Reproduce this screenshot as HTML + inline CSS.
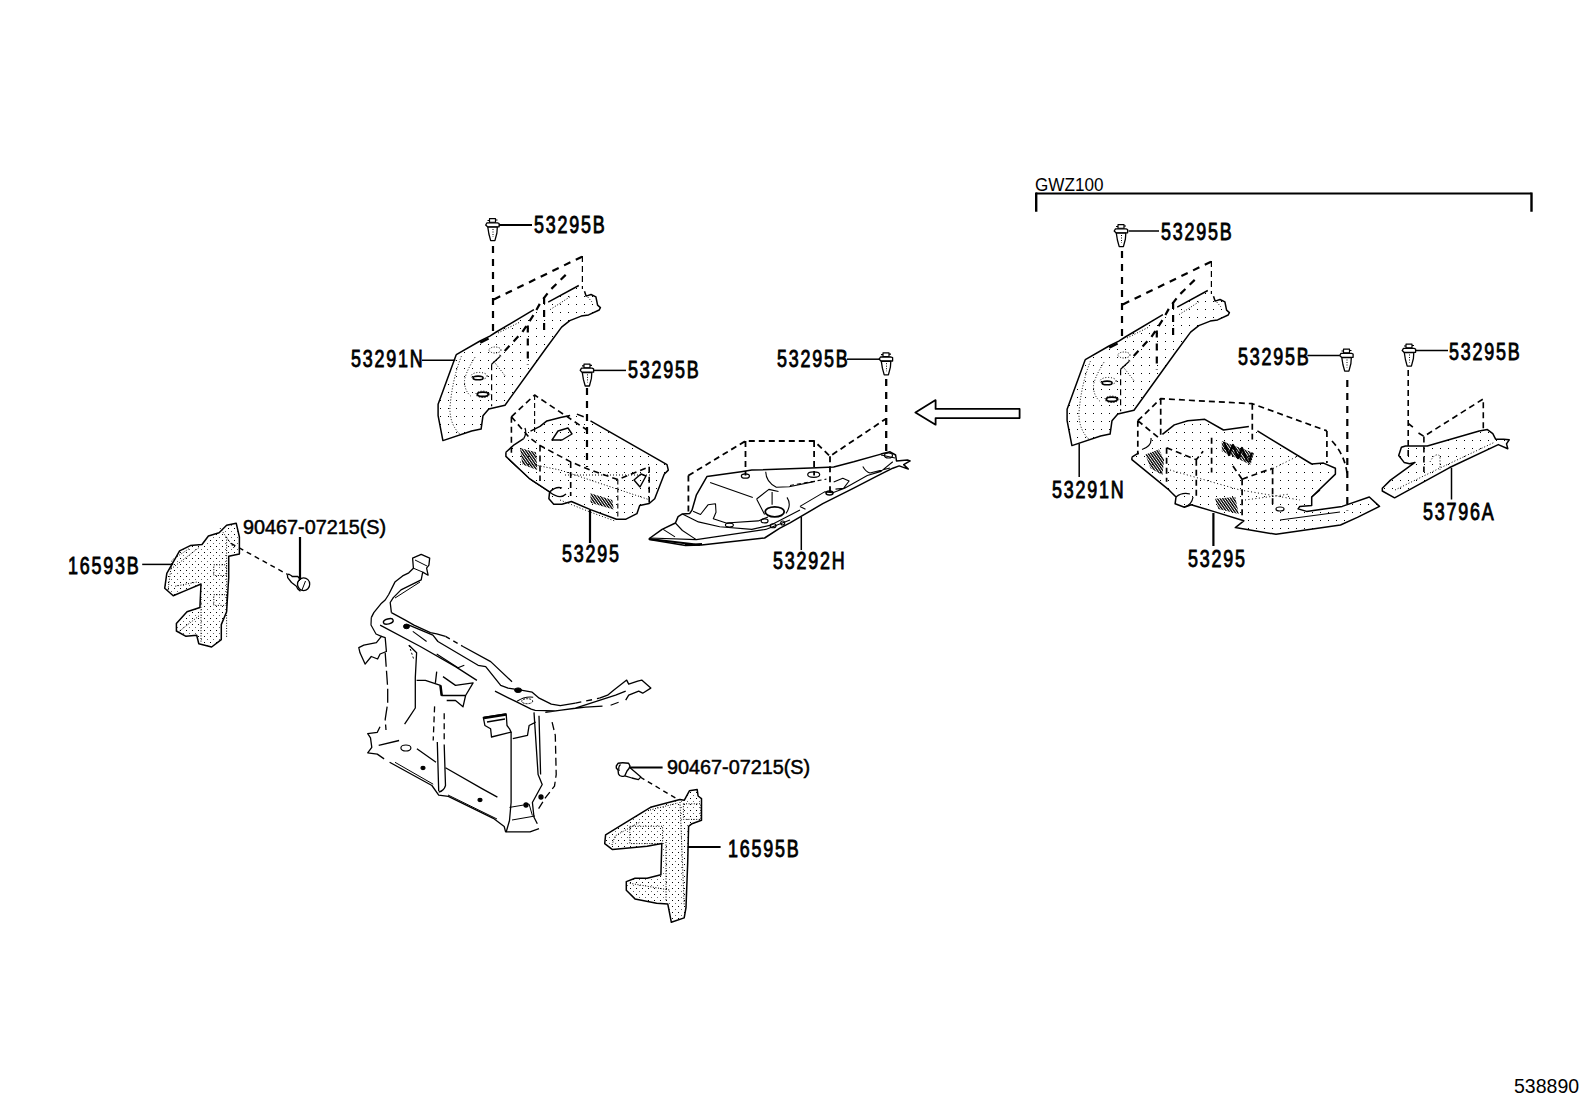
<!DOCTYPE html>
<html><head><meta charset="utf-8">
<style>
html,body{margin:0;padding:0;background:#fff;}
body{width:1592px;height:1099px;position:relative;overflow:hidden;}
.lb{position:absolute;font-family:"Liberation Sans",sans-serif;font-weight:normal;-webkit-text-stroke:0.9px #000;font-size:24px;line-height:26px;letter-spacing:2.4px;transform:scaleX(0.745);transform-origin:0 0;color:#000;white-space:nowrap;}
.ls{position:absolute;font-family:"Liberation Sans",sans-serif;font-weight:normal;-webkit-text-stroke:0.5px #000;font-size:20px;line-height:20px;transform:scaleX(0.99);transform-origin:0 0;color:#000;white-space:nowrap;}
.lt{position:absolute;font-family:"Liberation Sans",sans-serif;font-size:19.5px;line-height:20px;color:#000;white-space:nowrap;}
svg{position:absolute;left:0;top:0;}
</style></head><body>
<svg width="1592" height="1099" viewBox="0 0 1592 1099">
<defs>
<pattern id="st" width="6" height="6" patternUnits="userSpaceOnUse"><rect x="0" y="0" width="1" height="1" fill="#000"/><rect x="3" y="3" width="1" height="1" fill="#000" fill-opacity="0.6"/></pattern>
<pattern id="st2" width="8" height="8" patternUnits="userSpaceOnUse"><rect x="0" y="0" width="1" height="1" fill="#000"/></pattern>
<pattern id="hat" width="2.2" height="2.2" patternUnits="userSpaceOnUse" patternTransform="rotate(-35)"><rect x="0" y="0" width="1.3" height="2.2" fill="#000"/></pattern>
<g id="clip">
<path d="M-3,-6.3 H3 V-2.6 H-3 Z M-5,-4.5 H-3 M3,-5 H5" fill="#fff" stroke="#000" stroke-width="1.2"/>
<path d="M-5.5,-2.2 H5 L6.6,-1.5 V1.8 H-5 L-6.8,0 Z" fill="#fff" stroke="#000" stroke-width="1.3" stroke-linejoin="round"/>
<path d="M-4.7,2.2 L4.8,2.2 L4.4,8 L2.4,15.6 L-1.8,15.6 L-3.6,9 Z" fill="#fff" stroke="#000" stroke-width="1.3" stroke-linejoin="round"/>
<path d="M0.5,4 V12" stroke="#000" stroke-width="1" stroke-dasharray="1 1.5"/>
</g>
</defs>
<g fill="none" stroke="#000" stroke-linejoin="round" stroke-linecap="butt">
<!-- ===== LEFT 53291N group ===== -->
<g id="g53291">
<path d="M456.3,354.6 L480,341 L489.8,336.1 L496.3,332 L533.9,309.6 L548.2,302.2 L578.8,285.5 L584.5,291.2 L586.1,296.1 L591,294.5 L595.9,296.9 L597.6,305.1 L600.4,307.6 L599.2,310 L588.6,314.9 L581.2,316.1 L569.8,320.6 L561.6,327.1 L545.3,349.2 L505,405.2 L488.8,409 L483,415.7 L481.1,429.1 L471.6,431 L442.9,440.6 L438.1,415.7 L438.1,404.3 Z" fill="url(#st2)" stroke="none"/>
<path d="M456.3,354.6 L480,341 L489.8,336.1 L496.3,332 L533.9,309.6 M548.2,302.2 L578.8,285.5 M584.5,291.2 L586.1,296.1 L591,294.5 L595.9,296.9 L597.6,305.1 L600.4,307.6 L599.2,310 L588.6,314.9 L581.2,316.1 L569.8,320.6 L561.6,327.1 L545.3,349.2 L505,405.2 L488.8,409 L483,415.7 L481.1,429.1 L471.6,431 L442.9,440.6 L438.1,415.7 L438.1,404.3 L456.3,354.6" stroke-width="1.5"/>
<!-- inner dotted -->
<path d="M461.4,356.2 Q452,380 449.9,408.5 Q450,425 460.3,434.6 M475,357.2 Q464,375 464.5,382.3 Q465,392 471.8,396.9 M493.8,361.4 L505.3,376 M550.2,309.6 L569.8,296.9 M586,295 L592,302 M498,333 L520,322" stroke-width="1" stroke-dasharray="1 1.8"/>
<ellipse cx="479.2" cy="376" rx="8" ry="3.6" stroke-width="1" stroke-dasharray="1 1.8"/>
<ellipse cx="482.8" cy="394.3" rx="7" ry="3.2" stroke-width="1" stroke-dasharray="1 1.8"/>
<ellipse cx="495" cy="350" rx="6" ry="3" stroke-width="1" stroke-dasharray="1 1.5"/>
<ellipse cx="478.1" cy="377.9" rx="5" ry="1.8" stroke-width="1.6"/>
<ellipse cx="482.8" cy="394.3" rx="5.5" ry="2.2" stroke-width="1.8"/>
<path d="M480.2,342.6 L488.6,338.5" stroke-width="2.5"/>
<!-- dashed thick -->
<path d="M493,246 V335 M493.9,299.4 L582.4,256.5 M565.7,274.9 L550.2,290 L540.4,302.7 L533.9,314.5 L522.4,332 L508.6,346.7 L500,356 M544.1,297 V334 M527.8,325.5 V365" stroke-width="2.2" stroke-dasharray="7 6"/>
<path d="M582.4,256 V289 M491.6,364.2 V406.2" stroke-width="1.2" stroke-dasharray="6 4"/>
<path d="M500,356.5 L491.6,364.2" stroke-width="1.2"/>
</g>
<use href="#clip" x="492.5" y="225"/>
<path d="M499,225 H532" stroke-width="2"/>
<path d="M422,360.3 H455.3" stroke-width="1.5"/>
<!-- ===== LEFT 53295 ===== -->
<path d="M505.9,452.3 L514.1,444.8 L523.7,438.7 L525,433.2 L530.5,431.2 L540,426.4 L546.9,420.9 L560.5,417.5 L570.1,415.5 L576.9,414.1 L583.7,416.8 L590.5,420.9 L667,464.6 L668.3,470.1 L664.2,474.2 L654.7,498.7 L649.2,503.5 L639.7,505.5 L636.9,513.7 L626,519.2 L616.5,519.2 L590.5,509.6 L571.4,501.5 L561.9,504.2 L553.7,504.2 L548.9,498.7 L549.6,491.9 L529.1,478.3 L505.9,456.4 Z" fill="url(#st2)" stroke="none"/>
<path d="M505.9,452.3 L514.1,444.8 L523.7,438.7 M530.5,431.2 L540,426.4 L546.9,420.9 L560.5,417.5 L570.1,415.5 M576.9,414.1 L583.7,416.8 M590.5,420.9 L667,464.6 L668.3,470.1 L664.2,474.2 L654.7,498.7 L649.2,503.5 L639.7,505.5 L636.9,513.7 L626,519.2 L616.5,519.2 L590.5,509.6 L571.4,501.5 L561.9,504.2 L553.7,504.2 L548.9,498.7 L549.6,491.9 L529.1,478.3 L505.9,456.4 L505.9,452.3" stroke-width="1.5"/>
<path d="M523.7,438.7 Q527,433 525,428 M549.6,491.9 Q556,486 562,488 M549.6,492 Q560,500 566,494" stroke-width="1.3"/>
<path d="M552,440 L558,431 L568,428 L572,434 L562,440 Z" stroke-width="1.4"/>
<path d="M634,480 L641,474 L646,476 L640,487 Z" stroke-width="1.4"/>
<path d="M508,459 L531,480 L551,493" stroke-width="1"/>
<path d="M520,462 L560,470 L620,490 L650,500 M565,475 L650,475 M560,500 L590,512 L615,521" stroke-width="1" stroke-dasharray="1 2"/>
<path d="M520,448 L536,452.3 L537.3,470.1 L522.3,464.6 Z" fill="url(#hat)" stroke="none"/>
<path d="M590.5,493.3 L612.4,500.1 L613.7,509.6 L590.5,502.8 Z" fill="url(#hat)" stroke="none"/>
<!-- dashed box -->
<path d="M511.4,416.8 L534.6,395 L587.8,430.5 M511.4,416.8 L529.1,437.3 L540,445.5 L570.7,461.9 L590.5,470.1 L617.8,479.6 L649.2,466.7 M511.4,416.8 V456.4 M540,445.5 V481 M570.7,461.9 V496 M649.2,466.7 V502.8" stroke-width="1.6" stroke-dasharray="6 4"/>
<path d="M534.6,395 V432 M617.8,479.6 V516.5" stroke-width="1.1" stroke-dasharray="5 3"/>
<path d="M587,388 V467" stroke-width="2.2" stroke-dasharray="7 6"/>
<use href="#clip" x="587" y="370.4"/>
<path d="M594,370.4 H626" stroke-width="1.5"/>
<path d="M590,510 V543" stroke-width="2.2"/>
<!-- ===== 53292H ===== -->
<path d="M649.3,538.5 L662.1,529.4 L675.4,523 L678.1,516.6 L682.4,513.9 L689.8,513.4 L692,510.2 L696.3,495.2 L706.9,476.6 L741.1,471.7 L751.8,470.1 L810.5,468 L833.7,466.9 L853.7,461.8 L881,454.1 L890.1,451.8 L895.6,455 L896.5,460.9 L907.4,460 L910.1,460.9 L903.7,464.6 L908.3,469.1 L899.2,465.9 L892.8,468.2 L876.4,476.4 L853.7,488.2 L822.8,503.7 L790,522.8 L779.5,528.3 L764.6,538 L701.6,544.9 L685.6,545.4 L649.3,539.6 Z" stroke-width="1.5"/>
<path d="M663.2,529.4 L675,536.9 M675.4,523 L682.4,530.5 L696.3,539.6 M649.8,538 L696.3,539.6 L765.7,529.4 L790,520 M682.4,513.9 L698.4,521.9 L719.7,526.7 L751.8,529.4 L771,525.1 L800,510 M693,511.3 L700.5,514.5 L708,504.8 L715.5,503.8 L716,512.3 L713.3,518.7 L726.2,523 L758.2,520.9 L768,517 M710.1,482.4 L752.8,497.4 M756.6,499 L768.9,489.4 L778.5,491.5 M756.6,499 L764.6,514.5 M772.1,492 V504.8 M787,497.4 Q792,505 786,513.4 M765.7,471.7 Q766,482 776.3,487.2 L789.2,486.7 L815,481.4 M800,506.4 L805.5,509.2 M800,506.4 L824.6,491.9 L832.8,492.8 L844.6,488.2 L867.3,475.5 L881,471.4 L892.8,461.8 M862.8,466.4 Q866,472 870,473 L890,468 M833.7,481.9 L842.8,478.2 L849.1,481 L843.7,488.2 L835.5,489.1 M881,455 L895,458" stroke-width="1.1"/>
<path d="M790,485.5 L826.4,479.1" stroke-width="1.1" stroke-dasharray="4 3"/>
<path d="M649.5,539 L700,545 M685,545 L702,544" stroke-width="2"/>
<ellipse cx="774.7" cy="511.8" rx="9.5" ry="5" stroke-width="1.8"/>
<ellipse cx="745.4" cy="476" rx="4" ry="2.2" stroke-width="1.3"/>
<ellipse cx="813.7" cy="474.6" rx="6" ry="2.8" stroke-width="1.2"/>
<ellipse cx="829.5" cy="493" rx="3.5" ry="2" stroke-width="1.5"/>
<ellipse cx="888.5" cy="455.5" rx="4" ry="2.5" stroke-width="1.2"/>
<ellipse cx="729.4" cy="525.1" rx="4" ry="2" stroke-width="1.1"/>
<ellipse cx="764.6" cy="520.9" rx="3.5" ry="2" stroke-width="1.1"/>
<ellipse cx="773.1" cy="525.7" rx="3" ry="2" stroke-width="1.1"/>
<ellipse cx="782.7" cy="523" rx="2" ry="2" stroke-width="1.1"/>
<!-- dashed -->
<path d="M688.4,475.5 L745.5,441 H814.1 L830,456.2 L885.3,419.2 M688.4,475.5 V512.5 M745.5,441 V475.5 M814.1,441 V475.5 M830,456.2 V493" stroke-width="1.8" stroke-dasharray="6 4"/>
<path d="M886.2,379 V452.7" stroke-width="2.3" stroke-dasharray="7 6"/>
<use href="#clip" x="886" y="359.2"/>
<path d="M847,359.2 H879" stroke-width="1.5"/>
<path d="M801.3,517 V550" stroke-width="1.5"/>
<!-- ===== 16593B ===== -->
<path d="M226.6,525.3 L236.2,523.2 L239.4,537 L239.4,554 L228.7,556.3 L228.7,577.6 L226.6,611.8 L221.3,624.6 L221.3,639.6 L211.6,647 L198.8,643.8 L196.7,635.3 L186,636.3 L176.4,631 L176.4,623.5 L187,611.8 L199.9,607.5 L201,584 L186,590.4 L173.2,595.8 L164.7,588.3 L166.8,573.3 L179.6,550.9 L190.3,545.6 L202,544.5 L208.4,536 L219.1,532.8 Z" fill="url(#st)" stroke="#000" stroke-width="1.5"/>
<path d="M226.6,537 V637.4 M213.8,564.8 H226.6 V575.5 H213.8 Z M213.8,594.7 H226.6 V605.4 H213.8 Z M201,599 V641.7 M171,569 L198.8,547.7 M175.3,586.2 L197,582 M179.6,631 L198.8,616 M168,590 L172,560 L190,548 M220,528 L234,548" stroke-width="1" stroke-dasharray="1 1.6"/>
<path d="M142.2,564.4 H173.2" stroke-width="1.5"/>
<path d="M231,543.4 L287.5,574.4" stroke-width="1.4" stroke-dasharray="5 4"/>
<path d="M287.4,574.8 L289,574.2 L291.5,575.7 L292,576.5 L297.8,576.5 L299.5,578.5 M287.4,574.8 L287.7,577.6 L291.5,582.5 L296.4,586.3 L297.8,589 L300.5,591.2" stroke-width="1.3"/>
<ellipse cx="303.6" cy="584.2" rx="6.1" ry="6.4" stroke-width="1.3"/>
<path d="M297.5,582.5 L300,580 M305.5,581 L302,590" stroke-width="1"/>
<path d="M300,537 V580" stroke-width="2.2"/>
<!-- ===== 16595B ===== -->
<path d="M689.4,790.8 L697.2,789.6 L698.1,796 L701.5,798.6 L701.5,820.2 L692,823.7 L688.6,826.3 L687.7,862.6 L686,907.5 L684.2,917.9 L671.3,922.2 L667.8,904.1 L656.6,903.2 L635,898.9 L626.3,890.3 L626.3,881.6 L635,878.2 L647.1,878.2 L660.9,874.7 L661.8,843.6 L647.1,846.2 L612.5,849.6 L604.7,843.6 L605.6,834.9 L619.4,826.3 L650.5,807.3 L679.9,799.5 L684.2,800.3 Z" fill="url(#st)" stroke="#000" stroke-width="1.5"/>
<path d="M629.8,826.3 H662.6 V843.6 H629.8 Z M666,842 V900.6 M629.8,883.3 L669.5,890 M680,802 L684.2,905.8 M683.4,803.8 H700.7 V819.4 H683.4 Z M612,845 L615,836 L640,822 M650,810 L678,803" stroke-width="1" stroke-dasharray="1 1.6"/>
<path d="M687.7,847 H720.6" stroke-width="1.8"/>
<path d="M640.1,777 L676.5,798.6" stroke-width="1.4" stroke-dasharray="5 4"/>
<path d="M628.6,766.5 L640.9,776.9 L638.4,779.6 L631.9,778 L624.8,775.8" fill="#fff" stroke-width="1.3"/>
<path d="M618.2,763.2 Q622,762.2 628.6,763.2 L630,766 L629,768.5 L627,771 L624.8,775.8 Q620,777.5 618.5,774 L618,770 L616.3,768 L616.3,766 Z" fill="#fff" stroke-width="1.4"/>
<path d="M620.5,764.5 Q617.8,767 619.2,771" stroke-width="1.2"/>
<path d="M629.8,767.5 H662.6" stroke-width="2"/>
<!-- arrow -->
<path d="M915.4,412.4 L935.6,400.1 V408.9 H1019.6 V418.1 H935.6 V424.7 Z" stroke-width="1.8"/>
<!-- GWZ100 bracket -->
<path d="M1036,193.6 H1531.5" stroke-width="2"/>
<path d="M1036.2,192.6 V211.8 M1531.5,192.6 V211.8" stroke-width="2.4"/>
<!-- ===== Radiator support ===== -->
<g stroke-width="1.3">
<!-- left arm -->
<path d="M371.3,617.6 L373.8,612.6 L380.9,603.8 L385.2,600 L388.7,594.5 L394.9,582.1 L402.6,575.9 L408.8,572.8 L413.4,568.2 L412.6,558.1 L421.2,554.3 L429.7,558.1 L428.9,565.1 L426.6,568.2 L428.1,575.2 L422.7,572.1 L421.2,579.8 L401,589.9 L393.3,597.6 L390.2,602.5 L391.4,612.6"/>
<path d="M413.4,568.2 L422.7,572.1 M415,560 L427,566 M395,598 L420,582" stroke-width="1"/>
<path d="M371.3,617.6 L371,625 L376,634 L381.4,636.4" stroke-width="1.2"/>
<!-- top beam -->
<path d="M391.4,612.6 L405.3,620.1 L414,625.1 L430.4,632.7 L436.7,633.9 L445.5,636.4 M463,646.5 L490.7,661.6 L512,681.7"/>
<path d="M445.5,636.4 L463,646.5" stroke-dasharray="5 4"/>
<path d="M409,625.1 L432.9,635.2 L437.9,641.5 L478.1,665.3 L485.7,666.6 L500.7,685.4 L508.1,688.1 L521.1,690.2 L532.2,692.2 L539.2,698.2 L551.3,704.2 L560.3,705.7 L575.4,703.2 M599.5,698.2 L607.6,695.2 L613.6,690.2 L626.7,680.1 L628.7,684.1 L637.7,681.1 L641.7,680.1 L650.8,688.1 L642.7,693.2 L638.7,691.2 L628.7,695.2 L625.7,700.2"/>
<path d="M575.4,703.2 L599.5,698.2" stroke-dasharray="6 5"/>
<path d="M380.1,625.1 L420.3,646.5 L455.5,666.6 L476.9,680.4 M495,691.2 L515.1,701.2 L531.2,709.2 L535.2,710.3 L555.3,710.8 L585.5,707.2 L602.5,706.2 M545.3,712.3 L575.4,708.2 L615.6,695.2 L625.7,691.2"/>
<path d="M412.8,631.4 L426.6,641.5 M436.7,654 L458,667.8 L464.3,665.3 M517.1,701.2 Q525,696 533.2,697.2 M610.6,705.2 L618.6,702.2" stroke-width="1.1"/>
<ellipse cx="388.3" cy="621.4" rx="5" ry="2.5" stroke-width="1.4" transform="rotate(-15 388.3 621.4)"/>
<ellipse cx="406.5" cy="626.4" rx="3" ry="2.3" fill="#000" stroke-width="1"/>
<ellipse cx="518.1" cy="690.2" rx="3.5" ry="2.3" fill="#000" stroke-width="1"/>
<ellipse cx="527.2" cy="701.2" rx="5.5" ry="2.5" stroke-width="1" stroke-dasharray="2 1"/>
<!-- left pillar & bracket -->
<path d="M358.8,647.7 L363.8,645.2 L376.4,642.7 L381.4,636.4 L385.2,637.7 L386.4,651.5 L380.1,654 L377.6,659 L371.3,656.5 L365.1,664.1 L360,652.8 Z"/>
<path d="M385.2,652.8 L387.7,687.9 L387.7,703 L385.2,719.3 L386,730" stroke-dasharray="14 4"/>
<path d="M380,726.8 L377.3,732.3 L367.7,733.7 L370.5,737.8 L371.8,747.3 L367.7,752.8 L377.3,754.1 L384.1,758.9" />
<!-- inner left pillar -->
<path d="M409,645.2 L416.6,652.8 L415.3,677.9 L415.3,708 L407.8,719.3 L404.6,724.1"/>
<path d="M409,645.2 L414,660" stroke-width="1" stroke-dasharray="2 2"/>
<path d="M416.6,680.4 L425.4,680.4 L440.4,685.4 L441.7,695.5 L465.6,695.5 L463,706.8 L455.5,700.5 L446.7,700.5 M443,676.6 L455.5,685.4 L473.1,682.9 L465.6,695.5 M436.7,671.6 L435.4,682.9"/>
<path d="M440.4,685.4 L441.7,695.5" stroke-width="2.5"/>
<path d="M434.6,706.4 L433.2,740.5 M444.2,713.2 L444.2,740" stroke-dasharray="6 4"/>
<!-- center post -->
<path d="M437.3,741.9 L438.7,791 M444.2,744.6 L445.5,785.5 Q444,791 438.7,792"/>
<!-- bottom beam -->
<path d="M389.6,762.3 L431.9,785.5 L438.7,795.1 L448.3,796.4 L493.3,818.3 L504.2,826.5 L505.6,831.9 L530,831.9 L539,828.7"/>
<path d="M395,762.3 L433.2,784.2 M448,795 L497,819" stroke-width="1"/>
<path d="M378.7,745.3 L399.1,740.5 M416.9,748.7 L436,762.3 M445.5,767.8 L482.4,788.9 L497.4,797.1" />
<ellipse cx="405.9" cy="748" rx="5" ry="3" stroke-width="1.2"/>
<ellipse cx="423" cy="768" rx="2" ry="1.5" fill="#000"/>
<ellipse cx="480" cy="800" rx="2" ry="1.5" fill="#000"/>
<!-- right pillar -->
<path d="M483.3,717.3 L506.2,714 L507,725.5 L509.5,728.8 L511.1,732.1 L491.5,737 L490.6,728.8 L484.9,725.5 Z M487,722 L505,719" />
<path d="M484,718 L506,714.5" stroke-width="2.5"/>
<path d="M511.1,732.1 L511.1,802.5 L509.5,820.5 L506.2,832 M512.8,738.6 L527.5,735.3 L529.1,725.5 L535.7,722.2 M534,712.4 L538.1,774.6 L542.2,784.5 L532.4,802.5 L534,817.2 L537.3,823.8 M539,715.7 L540.6,774.6"/>
<path d="M552.1,722.2 L555.3,735.3 L556.2,774.6 L554.5,786.1 L545.5,797.6 L537.3,810.7" stroke-dasharray="8 4"/>
<path d="M509.5,807.4 L529.1,804.1 L532.4,815.6 M512,820 L535,816" stroke-width="1"/>
<ellipse cx="526" cy="805" rx="2" ry="2" fill="#000"/>
<ellipse cx="541" cy="797" rx="2" ry="2" fill="#000"/>
</g>
<!-- ===== RIGHT group ===== -->
<use href="#g53291" x="629" y="5"/>
<use href="#clip" x="1121" y="231"/>
<path d="M1128.5,231 H1159" stroke-width="1.5"/>
<path d="M1079.2,443.7 V476.9" stroke-width="1.5"/>
<!-- right 53295 -->
<path d="M1131.9,457.2 L1138.7,452.9 L1142,449.5 L1150.5,439.4 L1162.4,434.3 L1174.3,424.9 L1187.8,420.7 L1204.8,419.3 L1223.5,430 L1248.9,426.6 L1257.4,430.9 L1311.7,464 L1323.5,463.1 L1335.4,468.2 L1335.4,474.1 L1311.7,497 L1311.7,505.5 L1299.8,506.4 L1298.1,508.9 L1306.6,511.4 L1342.2,506.4 L1369.3,497 L1379.5,506.4 L1357.4,517.4 L1340.5,525 L1276,534.3 L1235.3,527.6 L1243.8,520.8 L1213.3,511.4 L1191.2,504.7 L1184.4,507.2 L1175.1,503.8 L1176,497 L1169.2,490.2 L1131.9,459.7 Z" fill="url(#st2)" stroke="none"/>
<path d="M1131.9,457.2 L1138.7,452.9 M1162.4,434.3 L1174.3,424.9 L1187.8,420.7 L1204.8,419.3 L1223.5,430 L1248.9,426.6 M1257.4,430.9 L1311.7,464 L1323.5,463.1 L1335.4,468.2 L1335.4,474.1 L1311.7,497 L1311.7,505.5 L1299.8,506.4 L1298.1,508.9 L1306.6,511.4 L1342.2,506.4 L1369.3,497 L1379.5,506.4 L1357.4,517.4 L1340.5,525 L1276,534.3 L1235.3,527.6 L1243.8,520.8 L1213.3,511.4 L1191.2,504.7 L1184.4,507.2 L1175.1,503.8 L1176,497 L1169.2,490.2 L1131.9,459.7 L1131.9,457.2" stroke-width="1.5"/>
<path d="M1142,449.5 Q1152,446 1151,438 M1176,497 Q1182,492 1190,494 M1184,507 Q1192,505 1193,497 M1311.7,497 L1320,490 M1280,520 L1340,512" stroke-width="1.2"/>
<path d="M1221.8,441 L1254,452.9 L1250.6,464.8 L1221.8,451.2 Z" fill="url(#hat)" stroke="none"/>
<path d="M1224,442 L1229,455 L1233,445 L1238,458 L1242,448 L1247,461 M1249,462 L1252,453" stroke-width="2.2"/>
<path d="M1170,470 L1240,490 L1300,500 M1270,470 L1300,455 M1245,500 L1290,494" stroke-width="1" stroke-dasharray="1 2.5"/>
<path d="M1145.4,454.6 L1159,449.5 L1164.1,459.7 L1162.4,475 L1150.5,468.2 Z" fill="url(#hat)" stroke="none"/>
<path d="M1215,498.7 L1235.3,497 L1238.7,514 L1218.4,508.9 Z" fill="url(#hat)" stroke="none"/>
<ellipse cx="1280" cy="509" rx="4" ry="2" stroke-width="1.2"/>
<!-- dashed box -->
<path d="M1137.8,420.7 L1160.7,398.7 L1252.3,403.7 L1326.9,430.9 M1137.8,420.7 L1160.7,439.4 M1137.8,420.7 V454.6 M1160.7,398.7 V436 M1252.3,403.7 V439.4 M1326.9,430.9 V463.1 M1166.6,447.8 L1196.3,459.7 L1203.1,451.2 M1166.6,447.8 V481.8 M1196.3,459.7 V497 M1211.6,437.7 V472.4 M1242.1,479.2 L1272.6,468.2 M1242.1,479.2 L1232,464.8 M1242.1,479.2 V519.1 M1272.6,468.2 V505.5 M1332,441 Q1345,455 1347.3,475" stroke-width="1.7" stroke-dasharray="6 4"/>
<path d="M1347.3,380 V510.6" stroke-width="2.2" stroke-dasharray="7 6"/>
<use href="#clip" x="1346.5" y="355.5"/>
<path d="M1307.4,355.5 H1339.6" stroke-width="1.5"/>
<path d="M1213.4,513 V546" stroke-width="2.2"/>
<!-- 53796A -->
<path d="M1382.3,488.3 L1390.5,480.1 L1415,462.4 L1409.6,463.7 L1404.1,462.4 L1398.7,455.5 L1401.4,447.3 L1405.5,446 L1427.3,446 L1479.2,431 L1487.4,429.6 L1492.8,433.7 L1495.6,439.2 L1503.7,439.2 L1509.2,439.8 L1506.5,443.9 L1507.8,448.7 L1498.3,444.6 L1449.2,467.8 L1394.6,497.8 L1382.3,491 Z" fill="url(#st2)" stroke="#000" stroke-width="1.5"/>
<path d="M1395,490 L1440,468 L1495,442 M1430,462 Q1435,452 1440,456 L1440,470" stroke-width="1" stroke-dasharray="1 2"/>
<path d="M1408.2,370 V458.3 M1408.2,423.5 L1415,428.9 M1418.5,433 L1423.9,436.4 L1483.3,398.9 V432.3 M1423.9,436.4 V471.9" stroke-width="1.6" stroke-dasharray="6 4"/>
<use href="#clip" x="1409" y="350.5"/>
<path d="M1415,350.5 H1448" stroke-width="1.5"/>
<path d="M1451.5,467.8 V499.5" stroke-width="1.5"/>
</g>
</svg>
<div class="lb" style="left:534px;top:212px">53295B</div>
<div class="lb" style="left:351px;top:346px">53291N</div>
<div class="lb" style="left:628px;top:357px">53295B</div>
<div class="lb" style="left:777px;top:346px">53295B</div>
<div class="lb" style="left:562px;top:541px">53295</div>
<div class="lb" style="left:773px;top:548px">53292H</div>
<div class="lb" style="left:68px;top:553px">16593B</div>
<div class="lb" style="left:728px;top:836px">16595B</div>
<div class="lb" style="left:1161px;top:219px">53295B</div>
<div class="lb" style="left:1238px;top:344px">53295B</div>
<div class="lb" style="left:1449px;top:339px">53295B</div>
<div class="lb" style="left:1052px;top:477px">53291N</div>
<div class="lb" style="left:1188px;top:546px">53295</div>
<div class="lb" style="left:1423px;top:499px">53796A</div>
<div class="ls" style="left:243px;top:517px">90467-07215(S)</div>
<div class="ls" style="left:667px;top:757px">90467-07215(S)</div>
<div class="lt" style="left:1035px;top:175px;transform:scaleX(0.9);transform-origin:0 0;font-size:19px">GWZ100</div>
<div class="lt" style="left:1514px;top:1076px">538890</div>
</body></html>
